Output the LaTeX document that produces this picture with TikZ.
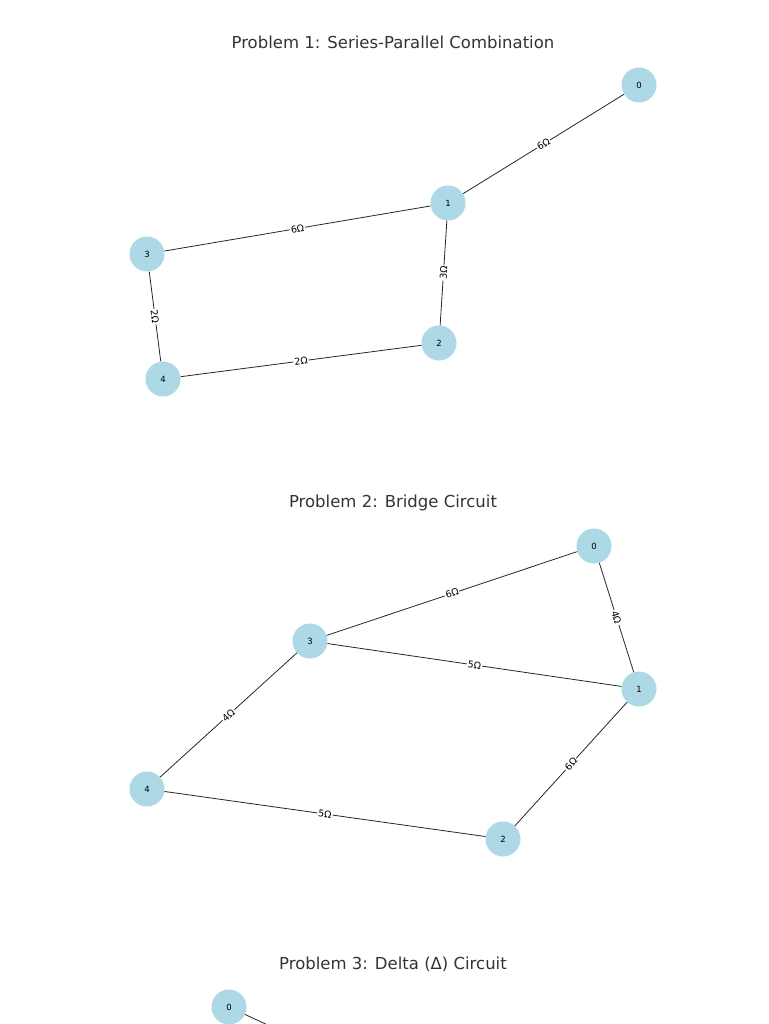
\documentclass[tikz,border=0pt]{standalone}
\usepackage{fontspec}
\setmainfont{DejaVu Sans}
\begin{document}
\begin{tikzpicture}[x=1pt,y=-1pt,
  vert/.style={circle,fill={rgb,255:red,173;green,216;blue,230},minimum size=35pt,inner sep=0pt,font=\fontsize{8.5}{9}\selectfont},
  edge/.style={draw=black!85,line width=0.8pt},
  wlab/.style={midway,sloped,fill=white,inner sep=1pt,font=\fontsize{9.5}{10}\selectfont},
  ttl/.style={font=\fontsize{16.5}{18}\selectfont,text=black!80}]
\useasboundingbox (0,0) rectangle (768,1024);
\clip (0,0) rectangle (768,1024);
% Problem 1
\node[ttl] (t1) at (393,42) {Problem 1: Series-Parallel Combination};
\node[vert] (a0) at (639,85) {0};
\node[vert] (a1) at (448,203) {1};
\node[vert] (a2) at (439,343) {2};
\node[vert] (a3) at (147,254) {3};
\node[vert] (a4) at (163,379) {4};
\draw[edge] (a0) -- node[wlab]{6Ω} (a1);
\draw[edge] (a1) -- node[wlab]{6Ω} (a3);
\draw[edge] (a1) -- node[wlab]{3Ω} (a2);
\draw[edge] (a3) -- node[wlab]{2Ω} (a4);
\draw[edge] (a4) -- node[wlab]{2Ω} (a2);
% Problem 2
\node[ttl] (t2) at (393,503) {Problem 2: Bridge Circuit};
\node[vert] (b0) at (594,546) {0};
\node[vert] (b1) at (639,689) {1};
\node[vert] (b2) at (503,839) {2};
\node[vert] (b3) at (310,641) {3};
\node[vert] (b4) at (147,789) {4};
\draw[edge] (b0) -- node[wlab]{6Ω} (b3);
\draw[edge] (b0) -- node[wlab]{4Ω} (b1);
\draw[edge] (b3) -- node[wlab]{5Ω} (b1);
\draw[edge] (b3) -- node[wlab]{4Ω} (b4);
\draw[edge] (b4) -- node[wlab]{5Ω} (b2);
\draw[edge] (b1) -- node[wlab]{6Ω} (b2);
% Problem 3
\node[ttl] (t3) at (393,964) {Problem 3: Delta (Δ) Circuit};
\node[vert] (c0) at (229,1007) {0};
\coordinate (c1) at (300,1040);
\draw[edge] (c0) -- (c1);
\end{tikzpicture}
\end{document}
